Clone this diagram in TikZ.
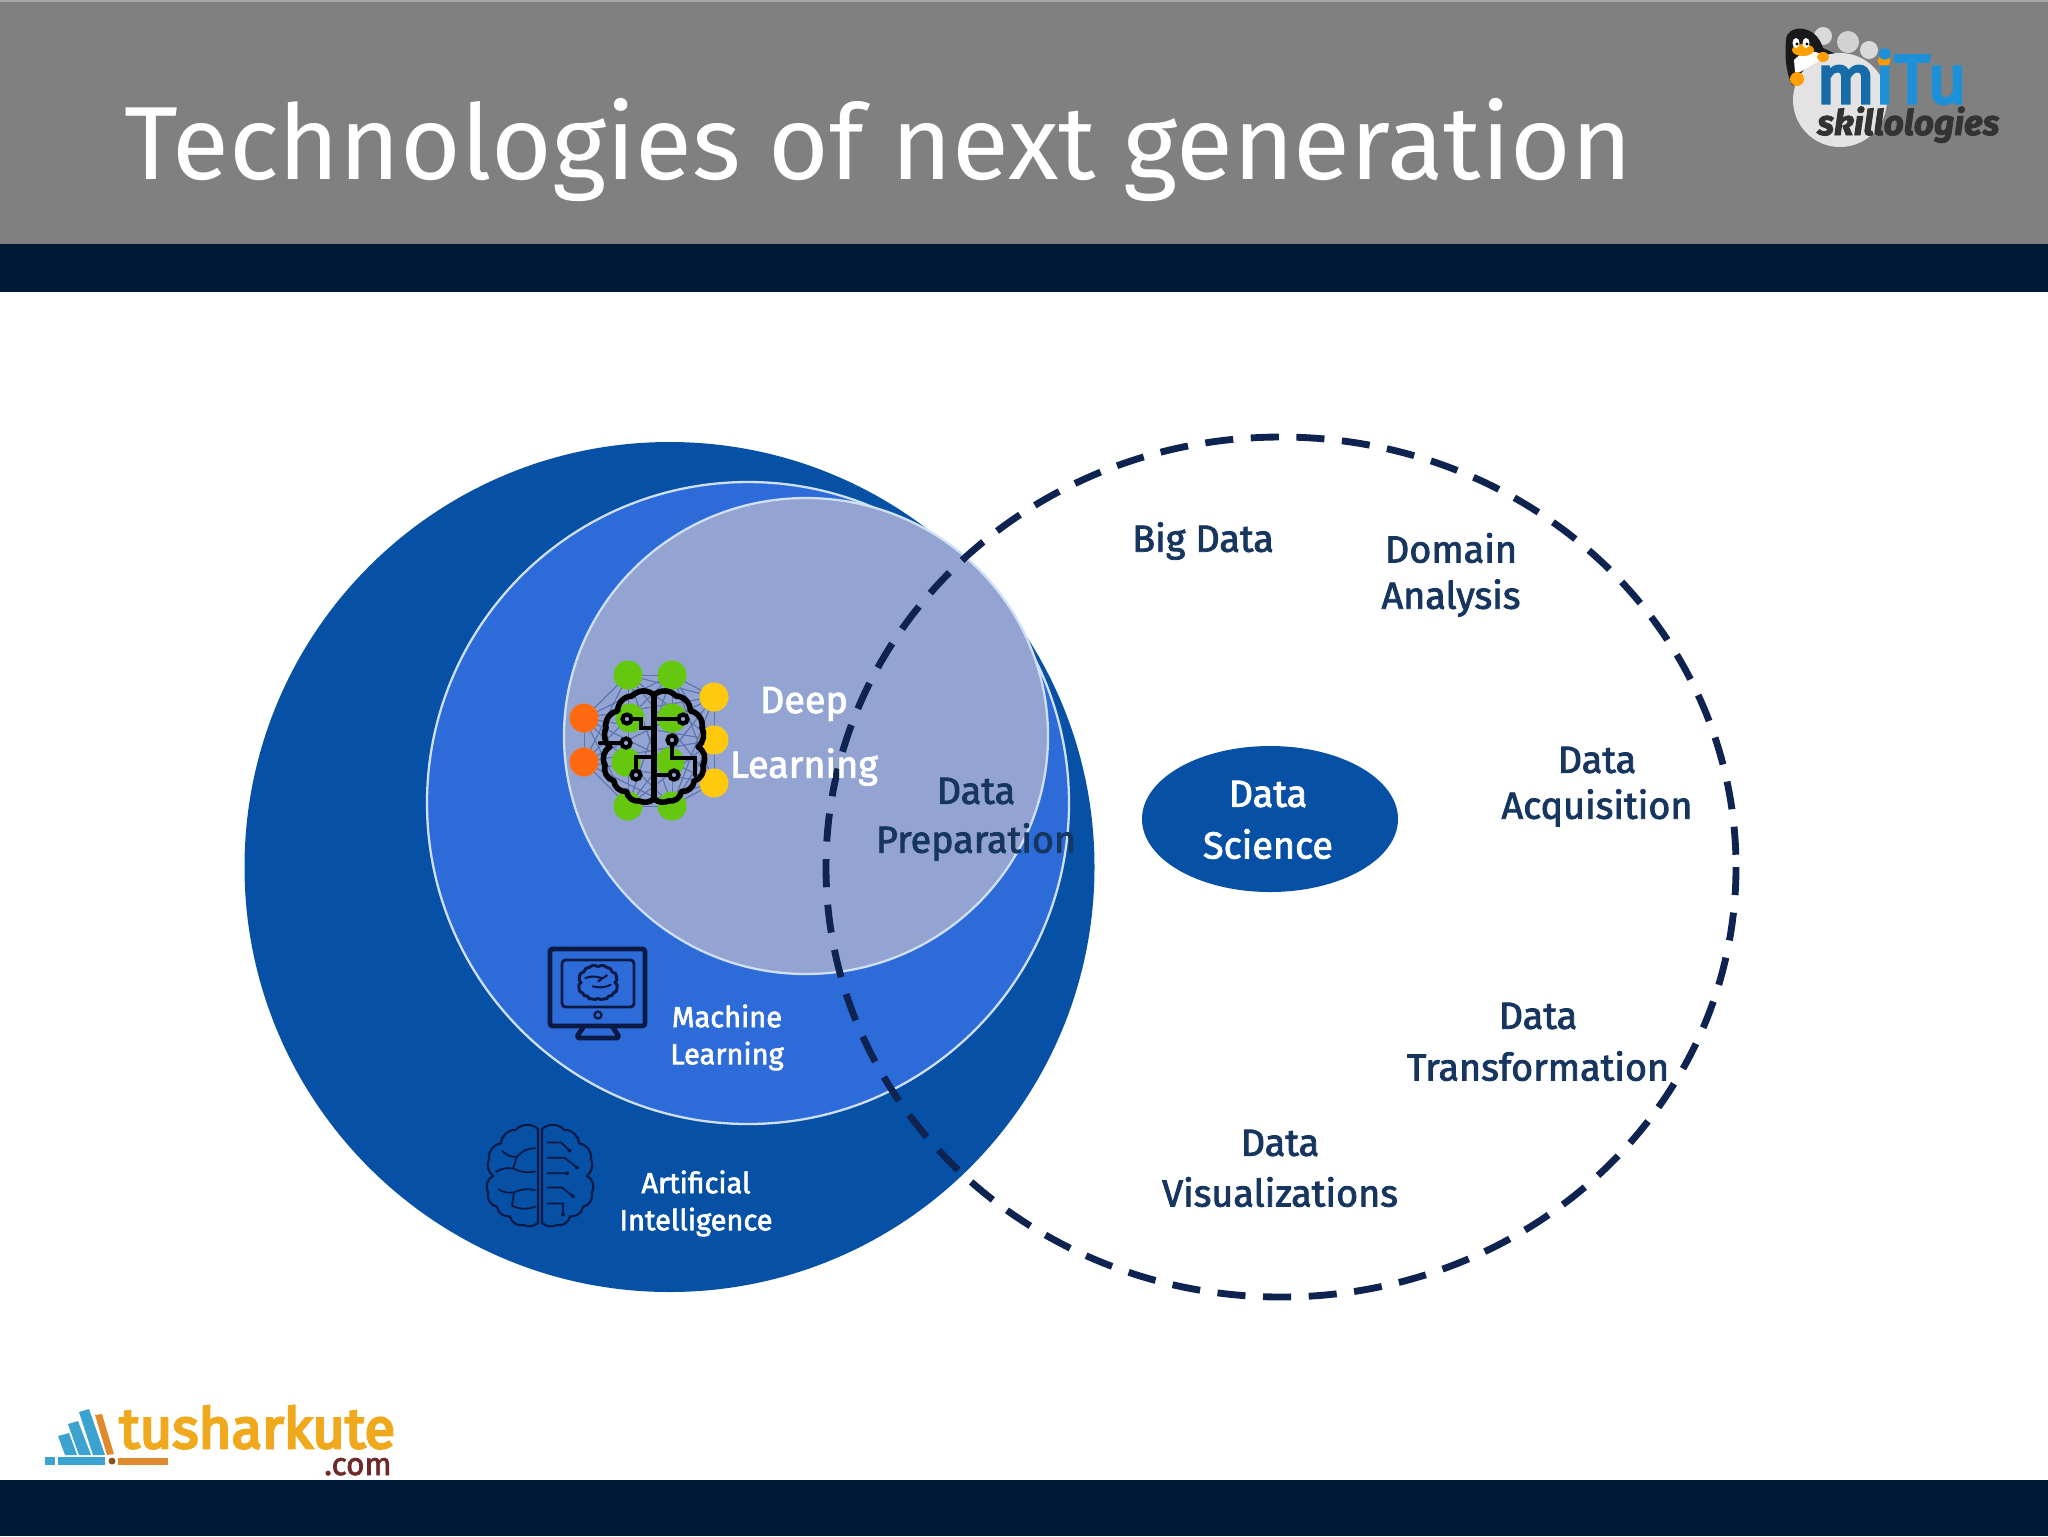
\documentclass[tikz,border=0pt]{standalone}
\usepackage{fontspec}
\setmainfont{Fira Sans}
\newfontfamily\labfont[FakeBold=2.2]{Fira Sans}
\newfontfamily\logofont[FakeBold=4.5]{Fira Sans}
\newfontfamily\skillfont[FakeBold=2.5]{Fira Sans Bold Italic}
\usetikzlibrary{shapes.geometric}
\definecolor{barGray}{HTML}{808080}
\definecolor{navyBar}{HTML}{001A35}
\definecolor{aiBlue}{HTML}{0650A6}
\definecolor{mlBlue}{HTML}{2D6CD8}
\definecolor{dlBlue}{HTML}{93A4D2}
\definecolor{rimBlue}{HTML}{CFE0F8}
\definecolor{dashNavy}{HTML}{0F2350}
\definecolor{labNavy}{HTML}{17365F}
\definecolor{iconNavy}{HTML}{0A1A45}
\definecolor{leaf}{HTML}{66C80E}
\definecolor{sun}{HTML}{FFC90E}
\definecolor{ember}{HTML}{FF6A10}
\definecolor{wire}{HTML}{5F75AE}
\definecolor{miDark}{HTML}{176CA8}
\definecolor{miLight}{HTML}{1E90D8}
\definecolor{tkOrange}{HTML}{F0A81C}
\definecolor{tkBlue}{HTML}{3CA2CF}
\definecolor{tkDeep}{HTML}{E08A30}
\definecolor{tkRed}{HTML}{6E2A28}
\newcommand{\brainopen}{(0,-1) to[bend left=45] (.45,-.98) to[bend left=45] (.74,-.70) to[bend left=45] (.98,-.38) to[bend left=35] (.90,-.02) to[bend left=45] (1,.32) to[bend left=45] (.82,.62) to[bend left=45] (.56,.82) to[bend left=45] (.30,1) to[bend left=30] (0,.96)}
\newcommand{\brainhalf}{\brainopen -- cycle}
\tikzset{
  x=0.02cm,y=-0.02cm,
  ttl/.style={text=white,inner sep=0pt,anchor=base west,font=\fontsize{59.2}{66}\selectfont},
  lab/.style={text=labNavy,inner sep=0pt,anchor=center,font=\labfont\fontsize{21.5}{26}\selectfont},
  wlab/.style={lab,text=white},
  slab/.style={lab,text=white,font=\labfont\fontsize{16.5}{20}\selectfont},
  dlab/.style={lab,text=white,font=\labfont\fontsize{21.5}{26}\selectfont},
  dot/.style={circle,inner sep=0pt,minimum size=29*0.02cm},
  wires/.style={draw=wire,line width=0.5pt},
  circuit/.style={draw=black,line width=2.4pt,line cap=round},
  pad/.style={draw=black,line width=2.4pt,fill=dlBlue},
  mon/.style={draw=iconNavy,line width=2.8pt,line join=round},
  book/.style={fill=tkBlue,draw=none}
}
\begin{document}
\begin{tikzpicture}
\useasboundingbox (0,0) rectangle (2048,1536);
\fill[white] (0,0) rectangle (2048,1536);
% bars
\fill[barGray] (0,0) rectangle (2048,244);
\fill[gray!70] (0,0) rectangle (2048,2);
\fill[navyBar] (0,244) rectangle (2048,292);
\fill[navyBar] (0,1480) rectangle (2048,1536);
\node[ttl] (title) at (124,179) {Technologies of next generation};
% venn
\fill[aiBlue] (669.5,867) circle (425);
\filldraw[fill=mlBlue,draw=rimBlue,line width=1.3pt] (748,803) circle (321);
\filldraw[fill=dlBlue,draw=rimBlue,line width=1.3pt] (806,736) ellipse [x radius=242,y radius=238];
\draw[dashNavy,line width=3.9pt,dash pattern=on 16pt off 10pt] (1281,867) ellipse [x radius=455,y radius=430];
% deep-learning icon: network
\foreach \a in {(628,675),(672,675),(714,697),(714,740),(714,783),(584,718),(584,762),(628,806),(672,806)}
  \foreach \b in {(628,675),(672,675),(714,697),(714,740),(714,783),(584,718),(584,762),(628,806),(672,806)}
    \draw[wires] \a -- \b;
\node[dot,fill=leaf] (g1) at (628,675) {};
\node[dot,fill=leaf] (g2) at (672,675) {};
\node[dot,fill=leaf] (g3) at (628,806) {};
\node[dot,fill=leaf] (g4) at (672,806) {};
\node[dot,fill=sun] (y1) at (714,697) {};
\node[dot,fill=sun] (y2) at (714,740) {};
\node[dot,fill=sun] (y3) at (714,783) {};
\node[dot,fill=ember] (o1) at (584,718) {};
\node[dot,fill=ember] (o2) at (584,762) {};
\node[dot,fill=leaf] (g5) at (630,718) {};
\node[dot,fill=leaf] (g6) at (672,718) {};
\node[dot,fill=leaf] (g7) at (626,762) {};
\node[dot,fill=leaf] (g8) at (670,762) {};
\begin{scope}[shift={(654,748)},x=.98cm,y=-1.06cm]
  \draw[black,line width=3.2pt,line join=round] \brainhalf;
  \begin{scope}[xscale=-1]
    \draw[black,line width=3.2pt,line join=round] \brainhalf;
  \end{scope}
\end{scope}
\draw[circuit] (627,719) -- (641,719) -- (641,728) -- (650,728);
\draw[circuit] (683,719) -- (654,719);
\draw[circuit] (626,743) -- (600,743);
\draw[circuit] (672,742) -- (672,758) -- (695,758) -- (695,775);
\draw[circuit] (636,775) -- (636,757) -- (650,757);
\draw[circuit] (674,775) -- (655,775);
\filldraw[pad] (627,719) circle (4.5);
\filldraw[pad] (683,719) circle (4.5);
\filldraw[pad] (626,743) circle (4.5);
\filldraw[pad] (672,740) circle (4.5);
\filldraw[pad] (636,775) circle (4.5);
\filldraw[pad] (674,775) circle (4.5);
% monitor
\draw[mon,rounded corners=1.5pt] (550,949) rectangle (645,1026);
\draw[mon,line width=1.6pt,rounded corners=2pt] (562,960) rectangle (634,1007);
\draw[mon,line width=1.3pt] (598,1015) circle (3.5);
\draw[mon,rounded corners=2pt] (584,1026) -- (576,1038) -- (620,1038) -- (612,1026);
\begin{scope}[shift={(598,983)},x=.38cm,y=-.32cm]
  \draw[iconNavy,line width=1.7pt] \brainopen;
  \begin{scope}[xscale=-1]
    \draw[iconNavy,line width=1.7pt] \brainopen;
  \end{scope}
  \draw[iconNavy,line width=1.2pt] (-.7,-.3) to[bend left=20] (.2,-.3) (-.3,.2) to[bend right=20] (.7,.1) (0,-.1) -- (.5,-.5);
\end{scope}
% AI brain
\begin{scope}[shift={(540,1177)},x=1cm,y=-.96cm]
  \begin{scope}[xshift=2*0.02cm]
    \draw[iconNavy,line width=1.2pt] \brainhalf;
    \draw[iconNavy,line width=1pt] (.1,-.72) -- (.38,-.72) -- (.55,-.55) (.1,-.4) -- (.45,-.4) -- (.7,-.2) (.1,-.08) -- (.5,-.08) (.1,.22) -- (.4,.22) -- (.62,.4) (.1,.55) -- (.42,.55) -- (.42,.78);
    \foreach \p in {(.55,-.55),(.7,-.2),(.5,-.08),(.62,.4),(.42,.78)} \fill[iconNavy] \p circle (.04);
  \end{scope}
  \begin{scope}[xshift=-2*0.02cm,xscale=-1]
    \draw[iconNavy,line width=1.2pt] \brainhalf;
    \draw[iconNavy,line width=1pt] (.05,-.6) to[bend left=25] (.42,-.42) to[bend right=25] (.72,-.55) (.05,-.12) to[bend right=20] (.5,-.18) to[bend left=20] (.85,-.1) (.42,-.42) -- (.5,-.18) (.05,.28) to[bend left=20] (.48,.32) to[bend right=20] (.8,.25) (.05,.62) to[bend right=20] (.52,.6) (.48,.32) -- (.52,.6);
  \end{scope}
\end{scope}
% labels
\node[dlab] (deep) at (804,704) {Deep};
\node[dlab] (learn) at (804,767) {Learning};
\node[lab] (prep1) at (976,791) {Data};
\node[lab] (prep2) at (976,842) {Preparation};
\fill[aiBlue] (1270,819) ellipse [x radius=128,y radius=73];
\node[wlab] (ds1) at (1268,794) {Data};
\node[wlab] (ds2) at (1268,844) {Science};
\node[lab] (big) at (1203,541) {Big Data};
\node[lab] (dom1) at (1451,548) {Domain};
\node[lab] (dom2) at (1451,598) {Analysis};
\node[lab] (acq1) at (1597,760) {Data};
\node[lab] (acq2) at (1597,808) {Acquisition};
\node[lab] (tr1) at (1538,1016) {Data};
\node[lab] (tr2) at (1538,1066) {Transformation};
\node[lab] (vis1) at (1280,1143) {Data};
\node[lab] (vis2) at (1280,1192) {Visualizations};
\node[slab] (ml1) at (727,1016) {Machine};
\node[slab] (ml2) at (727,1056) {Learning};
\node[slab] (ai1) at (696,1182) {Artificial};
\node[slab] (ai2) at (696,1222) {Intelligence};
% miTu logo
\fill[gray!30] (1823,36) circle (9);
\fill[gray!35] (1848,42) circle (11);
\fill[gray!30] (1869,50) circle (9);
\fill[orange!80!yellow] (1884,61) circle (6);
\fill[black!90] (1786,40) .. controls (1786,25) and (1815,22) .. (1823,48) -- (1838,55) -- (1800,85) -- (1792,85) .. controls (1785,70) and (1785,55) .. (1786,40) -- cycle;
\fill[gray!22] (1840,100) circle (47);
\fill[white] (1794,60) .. controls (1805,48) and (1820,50) .. (1824,58) -- (1800,72) -- (1795,72) -- cycle;
\fill[orange!75!yellow] (1803,50) ellipse [x radius=11,y radius=6];
\fill[white] (1796,43) ellipse [x radius=3.5,y radius=5];
\fill[white] (1806,43) ellipse [x radius=3.5,y radius=5];
\fill[black] (1797,44) circle (1.6);
\fill[black] (1807,44) circle (1.6);
\fill[orange!75!yellow] (1797,79) ellipse [x radius=7,y radius=7];
\fill[orange!75!yellow] (1823,57) ellipse [x radius=6,y radius=5];
\node[inner sep=0pt,anchor=base west,font=\logofont\fontsize{39}{44}\selectfont] (mitu) at (1816,103) {\textcolor{miDark}{m}\textcolor{miLight}{iTu}};
\node[inner sep=0pt,anchor=base west,text=black!80,font=\skillfont\fontsize{20}{24}\selectfont] (skill) at (1817,135) {skillologies};
% tusharkute logo
\begin{scope}[shift={(30,1390)}]
  \fill[book] (28,46) -- (39,43) -- (47,65) -- (35,65) -- cycle;
  \fill[book] (38,34) -- (48,31) -- (61,65) -- (49,65) -- cycle;
  \fill[book] (49,22) -- (59,19) -- (75,65) -- (63,65) -- cycle;
  \fill[tkDeep] (65,25) -- (72,24) -- (84,64) -- (77,65) -- cycle;
  \fill[tkBlue] (28,67) rectangle (75,75);
  \fill[tkBlue] (15,67) rectangle (25,75);
  \fill[tkDeep] (88,68) rectangle (138,75);
  \fill[tkDeep!60!black] (82,71) circle (3.5);
\end{scope}
\node[inner sep=0pt,anchor=base west,text=tkOrange,font=\logofont\fontsize{32}{36}\selectfont] (tk) at (119,1448) {tusharkute};
\node[inner sep=0pt,anchor=base east,text=tkRed,font=\labfont\fontsize{18}{20}\selectfont] (tkc) at (392,1475) {.com};
\end{tikzpicture}
\end{document}
